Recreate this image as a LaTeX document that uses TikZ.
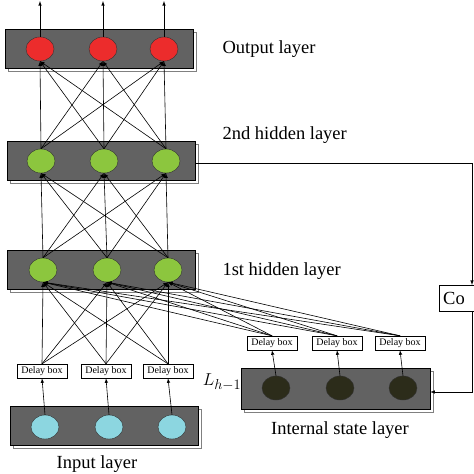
\documentclass[tikz,border=0pt]{standalone}
\usepackage{amsmath}
\usepackage{fontspec}
\setmainfont{Liberation Serif}
\usetikzlibrary{shapes,arrows,positioning,shadows}
\definecolor{layergray}{RGB}{98,98,98}
\definecolor{outred}{RGB}{236,44,44}
\definecolor{hidgreen}{RGB}{140,198,62}
\definecolor{incyan}{RGB}{140,214,224}
\definecolor{statedark}{RGB}{44,44,26}

\begin{document}
\begin{tikzpicture}[x=1pt,y=-1pt,
    layer/.style={draw=black, fill=layergray, minimum width=188pt, minimum height=39pt, inner sep=0pt,
      copy shadow={shadow xshift=3pt, shadow yshift=-3pt, fill=white, draw=gray}},
    neuron/.style={ellipse, draw=black!80, minimum width=28pt, minimum height=24pt, inner sep=0pt},
    delaybox/.style={draw, fill=white, font=\fontsize{10}{11}\selectfont, inner sep=1pt, minimum width=50pt, minimum height=14pt},
    lbl/.style={font=\fontsize{18.5}{20}\selectfont},
    conn/.style={-latex, line width=0.6pt}]
      \useasboundingbox (0,0) rectangle (474,474);
      \clip (0,0) rectangle (474,474);

      % Layer boxes
      \node[layer] (outbox) at (99,49) {};
      \node[layer] (hidbbox) at (101,160.5) {};
      \node[layer] (hidabox) at (101.5,270) {};
      \node[layer] (inbox) at (104,425.5) {};
      \node[layer, minimum width=189pt, minimum height=41pt] (stbox) at (335.5,388.5) {};

      % Output layer
      \node[neuron, fill=outred] (o1) at (40,49) {};
      \node[neuron, fill=outred] (o2) at (103,49) {};
      \node[neuron, fill=outred] (o3) at (164,49) {};
      \coordinate (top1) at (40,1); \coordinate (top2) at (103,1); \coordinate (top3) at (164,1);

      % 2nd hidden layer
      \node[neuron, fill=hidgreen] (b1) at (41,161) {};
      \node[neuron, fill=hidgreen] (b2) at (104,161) {};
      \node[neuron, fill=hidgreen] (b3) at (166,161) {};

      % 1st hidden layer
      \node[neuron, fill=hidgreen] (a1) at (43,270) {};
      \node[neuron, fill=hidgreen] (a2) at (107,270) {};
      \node[neuron, fill=hidgreen] (a3) at (168,270) {};

      % Input layer and its delay boxes
      \node[delaybox] (d1) at (42,371) {Delay box};
      \node[delaybox] (d2) at (106,371) {Delay box};
      \node[delaybox] (d3) at (168,371) {Delay box};
      \node[neuron, fill=incyan] (i1) at (45,427) {};
      \node[neuron, fill=incyan] (i2) at (109,427) {};
      \node[neuron, fill=incyan] (i3) at (172,427) {};

      % Internal state layer and its delay boxes
      \node[delaybox] (s1) at (272,343) {Delay box};
      \node[delaybox] (s2) at (337,343) {Delay box};
      \node[delaybox] (s3) at (400,343) {Delay box};
      \node[neuron, fill=statedark] (e1) at (276,388) {};
      \node[neuron, fill=statedark] (e2) at (340,388) {};
      \node[neuron, fill=statedark] (e3) at (403,388) {};

      % Labels
      \node[lbl, anchor=west] (outlbl) at (219,49) {Output layer};
      \node[lbl, anchor=west] (hidblbl) at (219,135) {2nd hidden layer};
      \node[lbl, anchor=west] (hidalbl) at (219,271) {1st hidden layer};
      \node[lbl] (inlbl) at (97,464) {Input layer};
      \node[lbl] (stlbl) at (340,430) {Internal state layer};
      \node[font=\fontsize{19}{20}\selectfont] (llbl) at (222,382) {$L_{h-1}$};

      % Context box and feedback
      \node[lbl, draw, fill=white, anchor=north west, text width=50pt, align=left, minimum height=26pt, inner sep=4pt] (ctx) at (439,285) {Co};
      \coordinate (c1) at (472,163);
      \coordinate (c2) at (472,392);
      \draw[conn] (hidbbox.east |- c1) -- (c1) -- (c1 |- ctx.north);
      \draw[conn] (c1 |- ctx.south) -- (c2) -- (c2 -| stbox.east);

      % Connections
      \draw[conn] (o1.north) -- (top1);
      \draw[conn] (o2.north) -- (top2);
      \draw[conn] (o3.north) -- (top3);
      \foreach \i in {1,2,3} {
        \draw[conn] (i\i.north) -- (d\i.south);
        \draw[conn] (e\i.north) -- (s\i.south);
        \foreach \j in {1,2,3} {
          \draw[conn] (b\i.north) -- (o\j.south);
          \draw[conn] (a\i.north) -- (b\j.south);
          \draw[conn] (d\i.north) -- (a\j.south);
          \draw[conn] (s\i.north) -- (a\j.south);
        }
      }
    \end{tikzpicture}
\end{document}
